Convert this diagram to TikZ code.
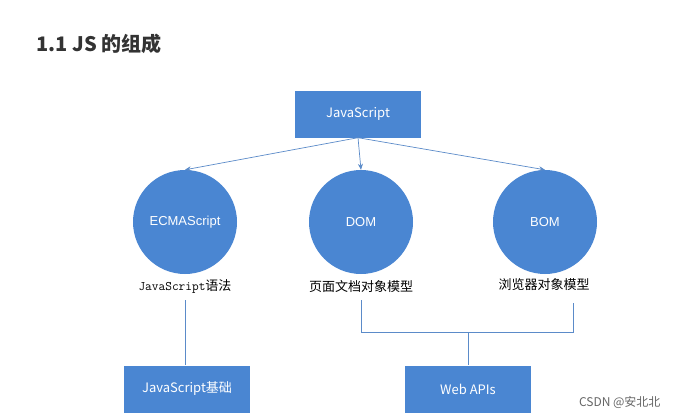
\documentclass[tikz,border=0pt]{standalone}
\usepackage{fontspec}
\setmainfont{Liberation Sans}
\newfontfamily\cjk{Noto Sans CJK SC}
\usetikzlibrary{arrows.meta}
\definecolor{bl}{HTML}{4A86D2}
\definecolor{ln}{HTML}{5B8BC9}
\begin{document}
\begin{tikzpicture}[x=1pt,y=-1pt,
  box/.style={fill=bl,draw=none,minimum width=126pt,minimum height=47pt,text=white,font=\cjk\fontsize{13}{15}\selectfont},
  circ/.style={circle,fill=bl,draw=none,minimum size=104pt,text=white,font=\fontsize{13}{15}\selectfont},
  lab/.style={font=\cjk\fontsize{13}{15}\selectfont,text=black},
  con/.style={draw=ln,line width=0.7pt},
  arr/.style={con,-{Stealth[length=6pt,width=5pt]}}]
\useasboundingbox (0,0) rectangle (677,420);
\fill[white] (0,0) rectangle (677,420);
\node[anchor=west,font=\cjk\bfseries\fontsize{20}{24}\selectfont,text=black!80] (t) at (33,44) {1.1 JS 的组成};
\node[box] (js) at (358,114) {JavaScript};
\node[circ] (ecma) at (185,222) {ECMAScript};
\node[circ] (dom) at (361,222) {DOM};
\node[circ] (bom) at (545,222) {BOM};
\node[lab] (l1) at (185,286) {{\ttfamily JavaScript}语法};
\node[lab] (l2) at (361,287) {页面文档对象模型};
\node[lab] (l3) at (544,285) {浏览器对象模型};
\node[box] (b1) at (187,389) {JavaScript基础};
\node[box] (b2) at (468,389) {Web APIs};
\draw[arr] (js.south) -- (ecma.north);
\draw[arr] (js.south) -- (dom.north);
\draw[arr] (js.south) -- (bom.north);
\coordinate (d1) at (361,300);
\coordinate (d2) at (361,332);
\coordinate (d3) at (573,332);
\coordinate (d4) at (573,303);
\coordinate (dm) at (468,332);
\coordinate (e1) at (185,300);
\draw[con] (e1) -- (b1.north -| e1);
\draw[con] (d1) -- (d2) -- (d3) -- (d4);
\draw[con] (dm) -- (b2.north);
\node[anchor=east,font=\cjk\fontsize{12}{14}\selectfont,text=black!60] (w) at (664,402) {CSDN @安北北};
\end{tikzpicture}
\end{document}
